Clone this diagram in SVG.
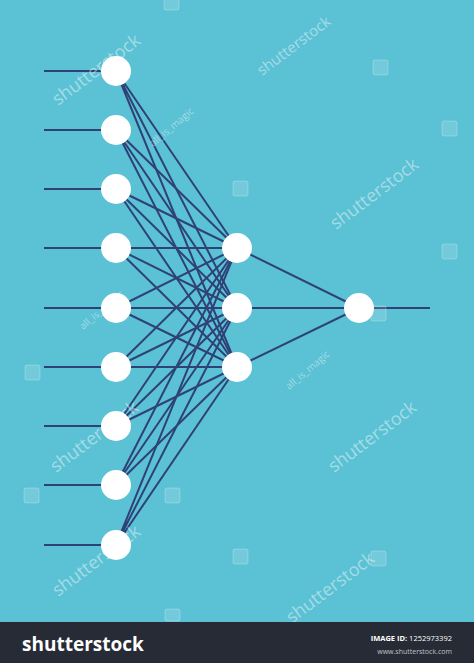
<svg xmlns="http://www.w3.org/2000/svg" width="474" height="663" viewBox="0 0 474 663">
<style>
.e{stroke:#2e4278;stroke-width:2;fill:none}
.n{fill:#ffffff}
.wm{font-family:"Open Sans","Liberation Sans",sans-serif;fill:#ffffff;fill-opacity:0.45}
.ic{fill:#ffffff;fill-opacity:0.15;stroke:#ffffff;stroke-opacity:0.25}
</style>
<rect x="0" y="0" width="474" height="663" fill="#5bc1d4"/>
<g id="connectors">
<line class="e" x1="44" y1="71" x2="116" y2="71"/>
<line class="e" x1="44" y1="130" x2="116" y2="130"/>
<line class="e" x1="44" y1="189" x2="116" y2="189"/>
<line class="e" x1="44" y1="248" x2="116" y2="248"/>
<line class="e" x1="44" y1="308" x2="116" y2="308"/>
<line class="e" x1="44" y1="367" x2="116" y2="367"/>
<line class="e" x1="44" y1="426" x2="116" y2="426"/>
<line class="e" x1="44" y1="485" x2="116" y2="485"/>
<line class="e" x1="44" y1="545" x2="116" y2="545"/>
<path class="e" d="M116 71L237 248M116 71L237 308M116 71L237 367"/>
<path class="e" d="M116 130L237 248M116 130L237 308M116 130L237 367"/>
<path class="e" d="M116 189L237 248M116 189L237 308M116 189L237 367"/>
<path class="e" d="M116 248L237 248M116 248L237 308M116 248L237 367"/>
<path class="e" d="M116 308L237 248M116 308L237 308M116 308L237 367"/>
<path class="e" d="M116 367L237 248M116 367L237 308M116 367L237 367"/>
<path class="e" d="M116 426L237 248M116 426L237 308M116 426L237 367"/>
<path class="e" d="M116 485L237 248M116 485L237 308M116 485L237 367"/>
<path class="e" d="M116 545L237 248M116 545L237 308M116 545L237 367"/>
<path class="e" d="M237 248L359 308M237 308L359 308M237 367L359 308"/>
<line class="e" x1="359" y1="308" x2="430" y2="308"/>
</g>
<g id="in1"><circle class="n" cx="116" cy="71" r="15"/></g>
<g id="in2"><circle class="n" cx="116" cy="130" r="15"/></g>
<g id="in3"><circle class="n" cx="116" cy="189" r="15"/></g>
<g id="in4"><circle class="n" cx="116" cy="248" r="15"/></g>
<g id="in5"><circle class="n" cx="116" cy="308" r="15"/></g>
<g id="in6"><circle class="n" cx="116" cy="367" r="15"/></g>
<g id="in7"><circle class="n" cx="116" cy="426" r="15"/></g>
<g id="in8"><circle class="n" cx="116" cy="485" r="15"/></g>
<g id="in9"><circle class="n" cx="116" cy="545" r="15"/></g>
<g id="h1"><circle class="n" cx="237" cy="248" r="15"/></g>
<g id="h2"><circle class="n" cx="237" cy="308" r="15"/></g>
<g id="h3"><circle class="n" cx="237" cy="367" r="15"/></g>
<g id="out"><circle class="n" cx="359" cy="308" r="15"/></g>
<g id="watermark">
<text class="wm" font-size="18" transform="translate(58,106) rotate(-37)">shutterstock</text>
<text class="wm" font-size="15" transform="translate(262,76) rotate(-37)">shutterstock</text>
<text class="wm" font-size="18" transform="translate(336,230) rotate(-37)">shutterstock</text>
<text class="wm" font-size="18" transform="translate(56,473) rotate(-37)">shutterstock</text>
<text class="wm" font-size="18" transform="translate(334,473) rotate(-37)">shutterstock</text>
<text class="wm" font-size="18" transform="translate(58,597) rotate(-37)">shutterstock</text>
<text class="wm" font-size="18" transform="translate(292,624) rotate(-37)">shutterstock</text>
<text class="wm" font-size="10" transform="translate(153,147) rotate(-40)">all_is_magic</text>
<text class="wm" font-size="10" transform="translate(83,330) rotate(-40)">all_is_magic</text>
<text class="wm" font-size="10" transform="translate(289,390) rotate(-40)">all_is_magic</text>
<rect class="ic" x="373" y="60" width="15" height="15" rx="2"/>
<rect class="ic" x="442" y="121" width="15" height="15" rx="2"/>
<rect class="ic" x="233" y="181" width="15" height="15" rx="2"/>
<rect class="ic" x="442" y="244" width="15" height="15" rx="2"/>
<rect class="ic" x="371" y="306" width="15" height="15" rx="2"/>
<rect class="ic" x="25" y="365" width="15" height="15" rx="2"/>
<rect class="ic" x="24" y="488" width="15" height="15" rx="2"/>
<rect class="ic" x="165" y="488" width="15" height="15" rx="2"/>
<rect class="ic" x="233" y="549" width="15" height="15" rx="2"/>
<rect class="ic" x="371" y="551" width="15" height="15" rx="2"/>
<rect class="ic" x="165" y="609" width="15" height="12" rx="2"/>
<rect class="ic" x="164" y="-4" width="15" height="14" rx="2"/>
</g>
<g id="footer">
<rect x="0" y="622" width="474" height="41" fill="#272b35"/>
<text x="22" y="651" font-family="'Open Sans','Liberation Sans',sans-serif" font-size="19" font-weight="bold" fill="#ffffff">shutterstock</text>
<text x="452" y="641" text-anchor="end" font-family="'Open Sans','Liberation Sans',sans-serif" font-size="7.5" fill="#ffffff"><tspan font-weight="bold">IMAGE ID:</tspan> 1252973392</text>
<text x="452" y="654" text-anchor="end" font-family="'Open Sans','Liberation Sans',sans-serif" font-size="7" fill="#bfc3c9">www.shutterstock.com</text>
</g>
</svg>
